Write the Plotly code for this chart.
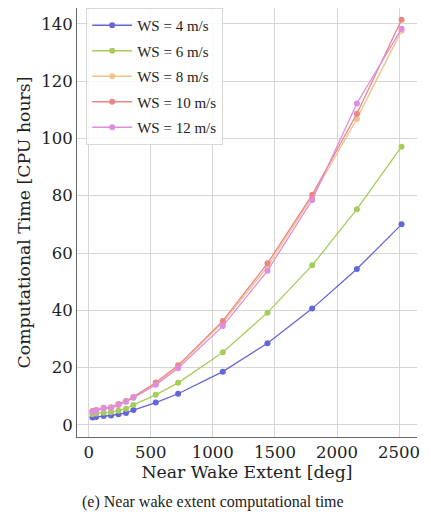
import plotly.graph_objects as go

extent = [30, 60, 120, 180, 240, 300, 360, 540, 720, 1080, 1440, 1800, 2160, 2520]
ws4 = [2.6, 2.8, 3.1, 3.3, 3.7, 4.2, 5.2, 7.8, 10.9, 18.6, 28.5, 40.6, 54.4, 70.0]
ws6 = [3.7, 4.0, 4.3, 4.4, 5.0, 5.7, 7.0, 10.5, 14.7, 25.4, 39.2, 55.7, 75.3, 97.1]
ws8 = [4.7, 5.0, 5.8, 6.0, 7.1, 8.2, 9.6, 14.3, 20.4, 35.7, 55.2, 79.6, 106.8, 137.6]
ws10 = [4.9, 5.2, 6.0, 6.2, 7.3, 8.4, 9.8, 14.8, 20.8, 36.3, 56.4, 80.3, 108.6, 141.4]
ws12 = [4.6, 4.9, 5.8, 6.0, 7.0, 8.1, 9.5, 14.0, 19.8, 34.5, 53.8, 78.5, 112.2, 138.3]

names = ["WS = 4 m/s", "WS = 6 m/s", "WS = 8 m/s", "WS = 10 m/s", "WS = 12 m/s"]
series = [ws4, ws6, ws8, ws10, ws12]
colors = ["#6366d8", "#a6cc5c", "#f0c48a", "#ea8686", "#de8ede"]

fig = go.Figure()
for i, (n, s, c) in enumerate(zip(names, series, colors)):
    fig.add_trace(go.Scatter(
        x=extent, y=s, name=n, mode="lines+markers",
        line=dict(color=c, width=1.3),
        marker=dict(color=c, size=6),
        legendgroup=str(i),
    ))

axis_font = dict(family="DejaVu Serif", size=16.5, color="#222")
fig.update_layout(
    width=423, height=510,
    margin=dict(l=69, r=14, t=0, b=81),
    paper_bgcolor="white", plot_bgcolor="white",
    showlegend=True,
    legend=dict(
        x=0.027, y=1.0, xanchor="left", yanchor="top",
        bgcolor="rgba(255,255,255,0.85)", bordercolor="#d8d8d8", borderwidth=1,
        font=dict(family="Liberation Serif", size=15, color="#222"),
        tracegroupgap=3, itemwidth=40,
    ),
    xaxis=dict(
        range=[-94.5, 2644.5], tickvals=[0, 500, 1000, 1500, 2000, 2500],
        showgrid=True, gridcolor="#d6d6d6", gridwidth=1, zeroline=False,
        showline=True, linecolor="#666", linewidth=1, ticks="",
        tickfont=axis_font,
        title=dict(text="Near Wake Extent [deg]", font=dict(family="DejaVu Serif", size=17.3, color="#222"), standoff=2),
    ),
    yaxis=dict(
        range=[-4.2, 145.5], tickvals=[0, 20, 40, 60, 80, 100, 120, 140],
        showgrid=True, gridcolor="#d6d6d6", gridwidth=1, zeroline=False,
        showline=True, linecolor="#666", linewidth=1, ticks="",
        tickfont=axis_font,
        title=dict(text="Computational Time [CPU hours]", font=dict(family="DejaVu Serif", size=17.3, color="#222"), standoff=6),
    ),
    annotations=[dict(
        text="(e) Near wake extent computational time",
        xref="paper", yref="paper", x=0.40, y=-65 / 429,
        xanchor="center", yanchor="middle", showarrow=False,
        font=dict(family="Liberation Serif", size=16, color="#222"),
    )],
)

fig.write_html("out.html")
